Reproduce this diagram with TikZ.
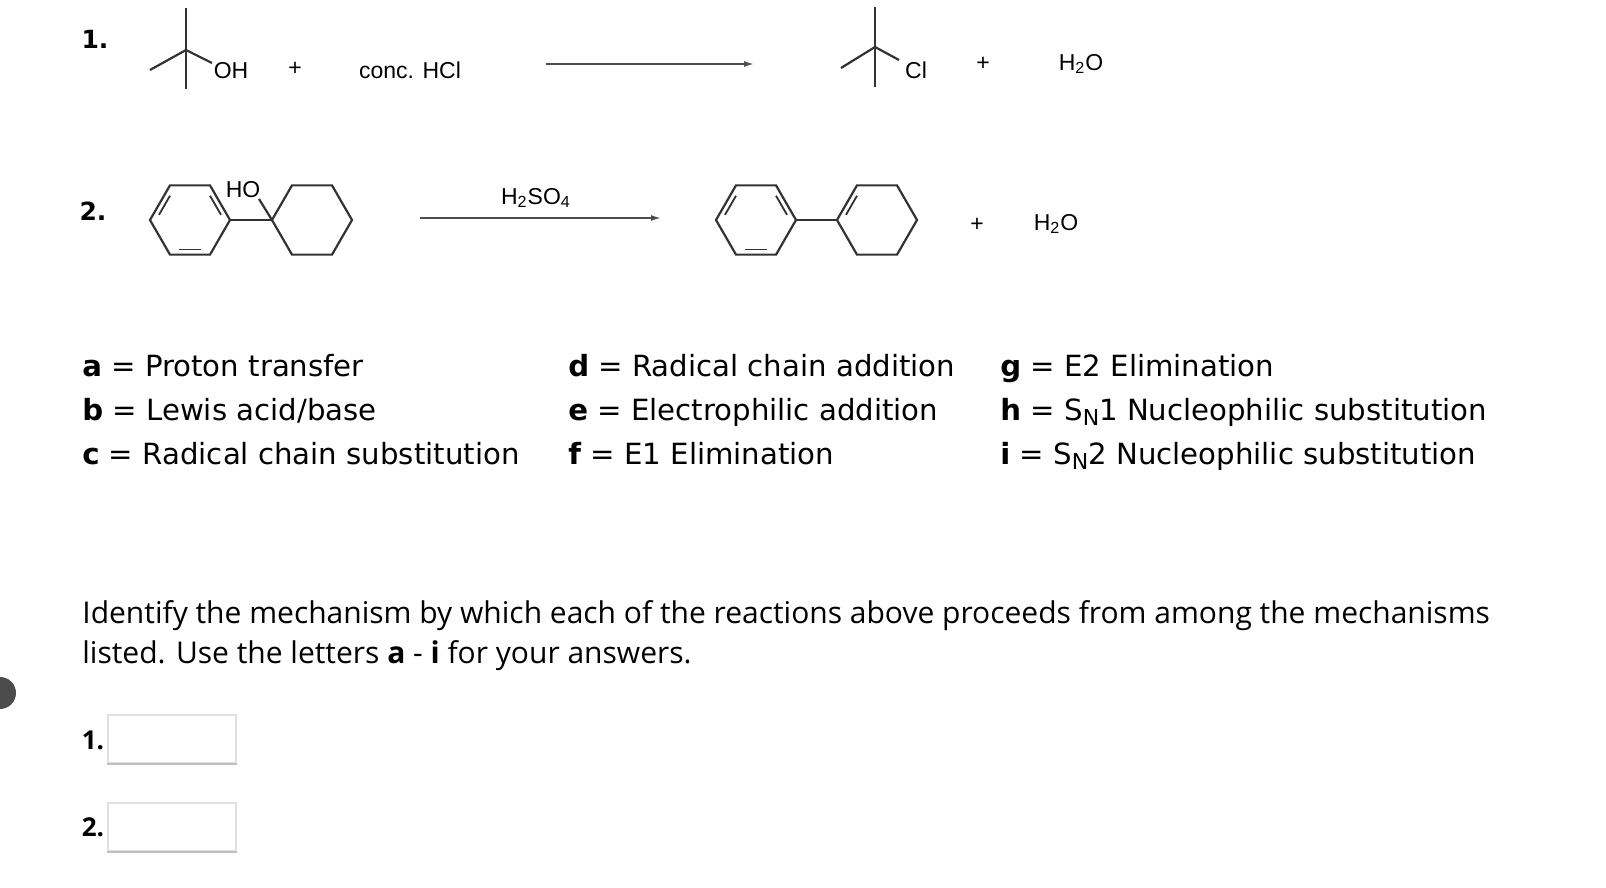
\documentclass[tikz,border=0pt]{standalone}
\usepackage{fontspec}
\setmainfont{DejaVu Sans}
\newfontfamily\chemfont{Liberation Sans}
\newfontfamily\qfont{Open Sans}
\usetikzlibrary{arrows.meta}
\tikzset{
  bond/.style={line width=1.1pt, draw=black!80},
  chem/.style={font=\chemfont\fontsize{11.5}{13}\selectfont, inner sep=0pt},
  num/.style={font=\bfseries\fontsize{12.5}{14}\selectfont, inner sep=0pt},
  mech/.style={anchor=base west, font=\fontsize{14.6}{16}\selectfont, inner sep=0pt},
  answer/.style={draw=black!12, line width=0.8pt, minimum width=64pt, minimum height=24pt, inner sep=0pt, anchor=north west},
  rxn/.style={-{Latex[length=5pt,width=3pt]}, line width=0.8pt, draw=black!70}
}
\newcommand{\subN}{\raisebox{-0.35ex}{\fontsize{11}{12}\selectfont N}}
\begin{document}
\begin{tikzpicture}[x=0.5pt,y=-0.5pt]
\useasboundingbox (0,0) rectangle (1606,888);
\begin{scope}
\clip (0,0) rectangle (30,888);
\fill[black!70] (0,693) circle (16);
\end{scope}
% reaction 1
\node [num] (n1) at (95,39) {1.};
\draw [bond] (186,8) -- (186,89);
\draw [bond] (150,70) -- (186,50) -- (212,63);
\node [chem] (oh) at (231,71) {OH};
\node [chem] (p1) at (295,69) {+};
\node [chem] (hcl) at (410,70) {conc. HCl};
\coordinate (a1s) at (546,64);
\coordinate (a1e) at (754,64);
\draw [rxn] (a1s) -- (a1e);
\draw [bond] (875,7) -- (875,87);
\draw [bond] (841,68) -- (875,47) -- (899,60);
\node [chem] (cl) at (916,70) {Cl};
\node [chem] (p2) at (983,64) {+};
\node [chem] (w1) at (1081,64) {H\textsubscript{2}O};
% reaction 2
\node [num] (n2) at (93,211) {2.};
\draw [bond] (190,220) ++(0:40) -- ++(120:40) -- ++(180:40) -- ++(240:40) -- ++(300:40) -- ++(0:40) -- cycle;
\draw [bond] (230,220) -- (272,220);
\draw [bond] (312,220) ++(0:40) -- ++(120:40) -- ++(180:40) -- ++(240:40) -- ++(300:40) -- ++(0:40) -- cycle;
\draw [bond] (272,220) -- (259,199);
\node [chem] (ho) at (243,190) {HO};
\node [chem] (h2so4) at (536,198) {H\textsubscript{2}SO\textsubscript{4}};
\coordinate (a2s) at (420,218);
\coordinate (a2e) at (661,218);
\draw [rxn] (a2s) -- (a2e);
\draw [bond] (756,220) ++(0:40) -- ++(120:40) -- ++(180:40) -- ++(240:40) -- ++(300:40) -- ++(0:40) -- cycle;
\draw [bond] (796,220) -- (837,220);
\draw [bond] (877,220) ++(0:40) -- ++(120:40) -- ++(180:40) -- ++(240:40) -- ++(300:40) -- ++(0:40) -- cycle;
% inner double bond lines
\foreach \cx/\a in {190/60, 190/180, 190/300, 756/60, 756/180, 756/300, 877/180} {
  \draw [bond, line width=0.9pt] (\cx,220) ++(\a:34) ++(\a+120:6) -- ++(\a+120:22);
}
\node [chem] (p3) at (977,225) {+};
\node [chem] (w2) at (1056,224) {H\textsubscript{2}O};
% mechanisms
\node [mech] (ma) at (82,376) {\textbf{a} = Proton transfer};
\node [mech] (mb) at (82,420) {\textbf{b} = Lewis acid/base};
\node [mech] (mc) at (82,464) {\textbf{c} = Radical chain substitution};
\node [mech] (md) at (568,376) {\textbf{d} = Radical chain addition};
\node [mech] (me) at (568,420) {\textbf{e} = Electrophilic addition};
\node [mech] (mf) at (568,464) {\textbf{f} = E1 Elimination};
\node [mech] (mg) at (1000,376) {\textbf{g} = E2 Elimination};
\node [mech] (mh) at (1000,420) {\textbf{h} = S\subN1 Nucleophilic substitution};
\node [mech] (mi) at (1000,464) {\textbf{i} = S\subN2 Nucleophilic substitution};
% question
\node [anchor=base west, inner sep=0pt, font=\qfont\fontsize{15}{20}\selectfont] (q1) at (82,623) {Identify the mechanism by which each of the reactions above proceeds from among the mechanisms};
\node [anchor=base west, inner sep=0pt, font=\qfont\fontsize{15}{20}\selectfont] (q2) at (82,663) {listed. Use the letters \textbf{a} - \textbf{i} for your answers.};
\node [num, font=\qfont\bfseries\fontsize{13}{14}\selectfont] (l1) at (93,740) {1.};
\node [answer] (b1) at (107,714) {};
\draw [black!25, line width=1pt] (b1.south west) -- (b1.south east);
\node [num, font=\qfont\bfseries\fontsize{13}{14}\selectfont] (l2) at (93,827) {2.};
\node [answer] (b2) at (107,802) {};
\draw [black!25, line width=1pt] (b2.south west) -- (b2.south east);
\end{tikzpicture}
\end{document}
